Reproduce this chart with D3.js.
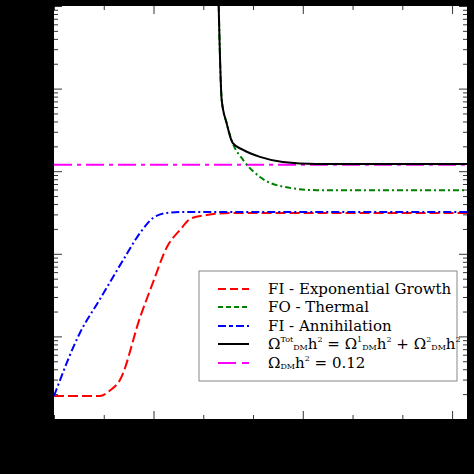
<!DOCTYPE html>
<html>
<head>
<meta charset="utf-8">
<script src="https://cdn.jsdelivr.net/npm/d3@7"></script>
<style>
  body { margin: 0; background: #000; }
  svg text { font-family: "DejaVu Serif", serif; }
</style>
</head>
<body>
<svg id="chart" width="474" height="474"></svg>
<script>
// series (x in axis units, y = relic abundance)
const redX = [0, 0.92, 1.12, 1.33, 1.73, 1.99, 2.27, 2.53, 2.77, 3.07, 3.6, 8.3];
const redY = [1.9e-4, 1.9e-4, 2.2e-4, 3.0e-4, 1.7e-3, 4.5e-3, 0.0121, 0.0194, 0.0271, 0.0295, 0.0312, 0.0312];
const blueX = [0, 0.52, 0.92, 1.39, 1.73, 1.99, 2.27, 2.61, 8.3];
const blueY = [1.9e-4, 1.1e-3, 2.8e-3, 8.4e-3, 0.0179, 0.0271, 0.0312, 0.0321, 0.0321];
const greenX = [3.31, 3.37, 3.47, 3.59, 3.80, 4.14, 4.60, 5.28, 8.3];
const greenY = [10, 0.73, 0.38, 0.22, 0.137, 0.085, 0.065, 0.059, 0.059];
const blackX = [3.31, 3.37, 3.47, 3.59, 3.80, 4.14, 4.60, 5.28, 8.3];
const blackY = [10, 0.73, 0.38, 0.22, 0.181, 0.149, 0.129, 0.122, 0.122];
const planckX = [0, 8.3];
const planckY = [0.12, 0.12];
const xMajor = [2, 5, 8];
const yMajor = [1e-4, 1e-3, 1e-2, 1e-1, 1, 10];

const margin = { top: 6, right: 7, bottom: 55, left: 54 };
const width = 474, height = 474;
const svg = d3.select('#chart');

const x = d3.scaleLinear().domain([0, 8.3]).range([margin.left, width - margin.right]);
const y = d3.scaleLog().domain([1e-4, 10]).range([height - margin.bottom, margin.top]);

svg.append('rect')
    .attr('x', margin.left).attr('y', margin.top)
    .attr('width', x(8.3) - x(0)).attr('height', y(1e-4) - y(10))
    .attr('fill', '#fff');

// ticks on all four sides, pointing inward
const xMinor = d3.range(0, 9).filter(v => !xMajor.includes(v));
const yMinor = [];
yMajor.slice(0, -1).forEach(d => d3.range(2, 10).forEach(k => yMinor.push(d * k)));

svg.append('g').attr('transform', `translate(0,${y(1e-4)})`)
    .call(d3.axisBottom(x).tickValues(xMajor).tickSize(-8).tickFormat(''))
    .call(g => g.select('.domain').remove());
svg.append('g').attr('transform', `translate(0,${y(1e-4)})`)
    .call(d3.axisBottom(x).tickValues(xMinor).tickSize(-4).tickFormat(''))
    .call(g => g.select('.domain').remove());
svg.append('g').attr('transform', `translate(0,${y(10)})`)
    .call(d3.axisTop(x).tickValues(xMajor).tickSize(-8).tickFormat(''))
    .call(g => g.select('.domain').remove());
svg.append('g').attr('transform', `translate(0,${y(10)})`)
    .call(d3.axisTop(x).tickValues(xMinor).tickSize(-4).tickFormat(''))
    .call(g => g.select('.domain').remove());
svg.append('g').attr('transform', `translate(${x(0)},0)`)
    .call(d3.axisLeft(y).tickValues(yMajor).tickSize(-8).tickFormat(''))
    .call(g => g.select('.domain').remove());
svg.append('g').attr('transform', `translate(${x(0)},0)`)
    .call(d3.axisLeft(y).tickValues(yMinor).tickSize(-4).tickFormat(''))
    .call(g => g.select('.domain').remove());
svg.append('g').attr('transform', `translate(${x(8.3)},0)`)
    .call(d3.axisRight(y).tickValues(yMajor).tickSize(-8).tickFormat(''))
    .call(g => g.select('.domain').remove());
svg.append('g').attr('transform', `translate(${x(8.3)},0)`)
    .call(d3.axisRight(y).tickValues(yMinor).tickSize(-4).tickFormat(''))
    .call(g => g.select('.domain').remove());
svg.selectAll('.tick line').attr('stroke', '#000').attr('stroke-width', 0.8);

const clip = svg.append('clipPath').attr('id', 'clip').append('rect')
    .attr('x', margin.left).attr('y', margin.top)
    .attr('width', x(8.3) - x(0)).attr('height', y(1e-4) - y(10));

const line = d3.line().x(d => x(d[0])).y(d => y(d[1])).curve(d3.curveMonotoneX);
const series = [
    { xs: planckX, ys: planckY, color: '#ff00ff', dash: '18,5,4,5', label: 'planck' },
    { xs: redX, ys: redY, color: '#ff0000', dash: '10,4', label: 'FI - Exponential Growth' },
    { xs: greenX, ys: greenY, color: '#008000', dash: '6,3,2,3', label: 'FO - Thermal' },
    { xs: blueX, ys: blueY, color: '#0000ff', dash: '8,3,2,3', label: 'FI - Annihilation' },
    { xs: blackX, ys: blackY, color: '#000', dash: null, label: 'total' }
];
svg.append('g').attr('clip-path', 'url(#clip)')
    .selectAll('path').data(series).join('path')
    .attr('d', s => line(s.xs.map((v, i) => [v, s.ys[i]])))
    .attr('fill', 'none')
    .attr('stroke', s => s.color)
    .attr('stroke-width', 2)
    .attr('stroke-dasharray', s => s.dash);

// axis labels (black, as in the original)
svg.append('text').attr('x', (x(0) + x(8.3)) / 2).attr('y', 455)
    .attr('text-anchor', 'middle').attr('font-size', 18).attr('fill', '#000').text('x');
svg.append('text').attr('transform', 'translate(18,212) rotate(-90)')
    .attr('text-anchor', 'middle').attr('font-size', 18).attr('fill', '#000').text('Ωh²');

// legend
const leg = svg.append('g');
leg.append('rect').attr('x', 199).attr('y', 271).attr('width', 258).attr('height', 110)
    .attr('fill', '#fff').attr('stroke', '#888').attr('stroke-width', 1);
const legendItems = [
    { color: '#ff0000', dash: '8,4' },
    { color: '#008000', dash: '5,3' },
    { color: '#0000ff', dash: '8,3,4,3' },
    { color: '#000', dash: null },
    { color: '#ff00ff', dash: '18,6' }
];
const rowY = [289, 307, 326, 344, 363];
legendItems.forEach((it, i) => {
    leg.append('line').attr('x1', 218).attr('x2', 249).attr('y1', rowY[i]).attr('y2', rowY[i])
        .attr('stroke', it.color).attr('stroke-width', 2).attr('stroke-dasharray', it.dash);
});
const tx = 268;
const fs = 15;
function row(i, html) {
    const t = leg.append('text').attr('x', tx).attr('y', rowY[i] + 5).attr('font-size', fs);
    html.forEach(p => {
        const s = t.append('tspan').text(p.t);
        if (p.sup) s.attr('font-size', 8).attr('dy', -7);
        if (p.sub) s.attr('font-size', 8).attr('dy', p.dy || 0);
        if (p.dy !== undefined && !p.sub) s.attr('dy', p.dy);
    });
}
row(0, [{ t: 'FI - Exponential Growth' }]);
row(1, [{ t: 'FO - Thermal' }]);
row(2, [{ t: 'FI - Annihilation' }]);
row(3, [
    { t: 'Ω' }, { t: 'Tot', sup: true }, { t: 'DM', sub: true, dx: 0, dy: 8 },
    { t: 'h', dy: -1 }, { t: '2', sup: true }, { t: ' = Ω', dy: 7 },
    { t: '1', sup: true }, { t: 'DM', sub: true, dy: 8 }, { t: 'h', dy: -1 }, { t: '2', sup: true },
    { t: ' + Ω', dy: 7 }, { t: '2', sup: true }, { t: 'DM', sub: true, dy: 8 }, { t: 'h', dy: -1 }, { t: '2', sup: true }
]);
row(4, [{ t: 'Ω' }, { t: 'DM', sub: true, dy: 1 }, { t: 'h', dy: -1 }, { t: '2', sup: true }, { t: ' = 0.12', dy: 7 }]);
</script>
</body>
</html>
